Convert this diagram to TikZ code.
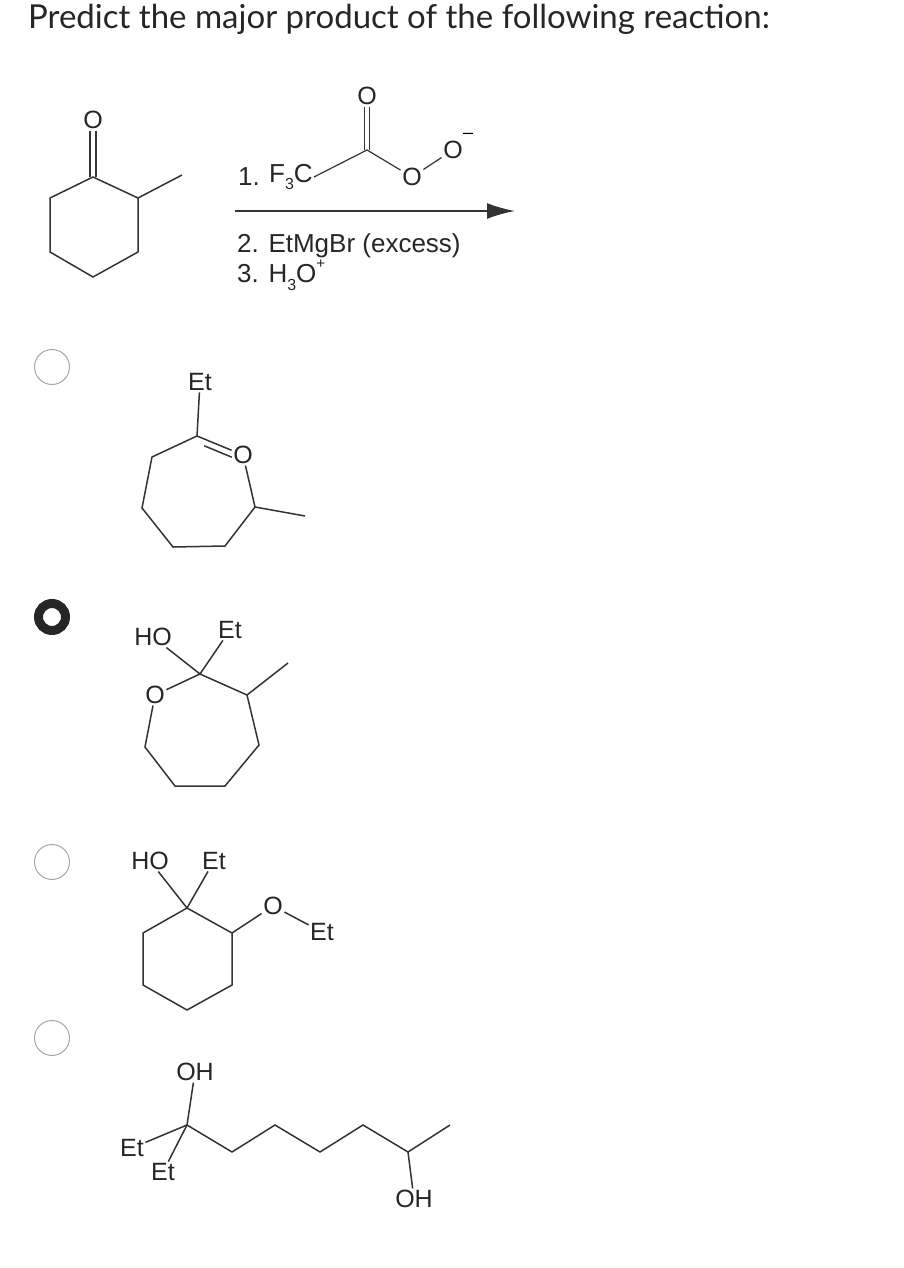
\documentclass[tikz,border=0pt]{standalone}
\usepackage{fontspec}
\setmainfont{Liberation Sans}
\newfontfamily\titlefont{Lato}
\usetikzlibrary{arrows.meta,calc}
\newcommand{\sbs}[1]{\raisebox{-0.3em}{\fontsize{16}{16}\selectfont #1}}
\newcommand{\sps}[1]{\raisebox{0.55em}{\fontsize{15}{15}\selectfont #1}}
\tikzset{
  bond/.style={line width=1.5pt, draw=black!80},
  atom/.style={inner sep=1.5pt, font=\fontsize{25}{25}\selectfont, text=black!85},
  reag/.style={inner sep=1pt, font=\fontsize{26}{26}\selectfont, text=black!85, anchor=west},
  radio/.style={circle, draw=black!35, line width=1pt, minimum size=35pt, inner sep=0pt},
  radiosel/.style={circle, draw=black!85, line width=9pt, minimum size=27pt, inner sep=0pt, fill=white},
}
\begin{document}
\begin{tikzpicture}[x=1pt,y=-1pt]
\useasboundingbox (0,0) rectangle (904,1268);
\node[anchor=west, inner sep=0pt, font=\titlefont\fontsize{33}{33}\selectfont, text=black!85] (title) at (28,19) {Predict the major product of the following reaction:};

% starting material
\coordinate (s1) at (93,177); \coordinate (s2) at (138,198); \coordinate (s3) at (138,252);
\coordinate (s4) at (93,277); \coordinate (s5) at (50,252); \coordinate (s6) at (50,198);
\coordinate (sme) at (182,175);
\node[atom] (sO) at (93,120) {O};
\draw[bond] (s1)--(s2)--(s3)--(s4)--(s5)--(s6)--cycle;
\draw[bond] (s2)--(sme);
\draw[bond] ([xshift=-3pt]s1)--([xshift=-3pt]sO.south);
\draw[bond] ([xshift=3pt]s1)--([xshift=3pt]sO.south);

% arrow & reagents
\coordinate (a1) at (235,211); \coordinate (a2) at (515,211);
\draw[line width=2pt, draw=black!80, -{Latex[length=28pt,width=16pt]}] (a1)--(a2);
\node[reag] (r1) at (237,177) {1.};
\node[reag] (rF) at (268,177) {F\sbs{3}C};
\coordinate (rc) at (367,150);
\node[atom] (rO1) at (367,96) {O};
\node[atom] (rO2) at (412,177) {O};
\node[atom] (rO3) at (453,150) {O};
\node[inner sep=0pt, font=\fontsize{18}{18}\selectfont] (rmin) at (468,136) {--};
\draw[bond, line width=1.2pt] (rF.east)--(rc)--(rO2)--(rO3);
\draw[bond, line width=1.2pt] ([xshift=-2.5pt]rc)--([xshift=-2.5pt]rO1.south);
\draw[bond, line width=1.2pt] ([xshift=2.5pt]rc)--([xshift=2.5pt]rO1.south);
\node[reag] (r2) at (236,246) {2. EtMgBr (excess)};
\node[reag] (r3) at (236,275) {3. H\sbs{3}O\sps{+}};

% radio buttons
\node[radio] (ra) at (52,367) {};
\node[radiosel] (rb) at (52,617) {};
\node[radio] (rcc) at (52,862) {};
\node[radio] (rd) at (52,1038) {};

% option A
\node[atom] (aEt) at (200,382) {Et};
\coordinate (a1c) at (197,436); \coordinate (a2c) at (152,457); \coordinate (a3c) at (142,508);
\coordinate (a4c) at (173,547); \coordinate (a5c) at (225,546); \coordinate (a6c) at (255,507);
\coordinate (ame) at (305,516);
\node[atom] (aO) at (243,455) {O};
\draw[bond] (aEt)--(a1c)--(a2c)--(a3c)--(a4c)--(a5c)--(a6c)--(aO)--(a1c);
\draw[bond] (a6c)--(ame);
\draw[bond] ($(a1c)!0.2!(aO)+(-2,6)$)--($(a1c)!0.8!(aO)+(-2,6)$);

% option B
\node[atom] (bHO) at (153,637) {HO};
\node[atom] (bEt) at (230,630) {Et};
\coordinate (b1) at (200,674); \coordinate (b3) at (247,695); \coordinate (bme) at (288,663);
\coordinate (b4) at (259,745); \coordinate (b5) at (225,786); \coordinate (b6) at (175,786);
\coordinate (b7) at (145,747);
\node[atom] (bO) at (155,695) {O};
\draw[bond] (bO)--(b1)--(b3)--(b4)--(b5)--(b6)--(b7)--(bO);
\draw[bond] (bHO)--(b1)--(bEt);
\draw[bond] (b3)--(bme);

% option C
\node[atom] (cHO) at (150,861) {HO};
\node[atom] (cEt) at (214,861) {Et};
\coordinate (c1) at (187,908); \coordinate (c2) at (232,933); \coordinate (c3) at (232,985);
\coordinate (c4) at (187,1010); \coordinate (c5) at (143,985); \coordinate (c6) at (143,933);
\node[atom] (cO) at (273,906) {O};
\node[atom] (cEt2) at (322,932) {Et};
\draw[bond] (c1)--(c2)--(c3)--(c4)--(c5)--(c6)--cycle;
\draw[bond] (cHO)--(c1)--(cEt);
\draw[bond] (c2)--(cO)--(cEt2);

% option D
\node[atom] (dOH) at (195,1072) {OH};
\coordinate (d1) at (187,1125); \coordinate (d2) at (232,1152); \coordinate (d3) at (275,1125);
\coordinate (d4) at (320,1152); \coordinate (d5) at (363,1125); \coordinate (d6) at (408,1152);
\coordinate (dme) at (450,1125);
\node[atom] (dOH2) at (414,1199) {OH};
\node[atom] (dEt1) at (132,1148) {Et};
\node[atom] (dEt2) at (163,1172) {Et};
\draw[bond] (dOH)--(d1)--(d2)--(d3)--(d4)--(d5)--(d6)--(dme);
\draw[bond] (d6)--(dOH2);
\draw[bond] (d1)--(dEt1);
\draw[bond] (d1)--(dEt2);
\end{tikzpicture}
\end{document}
